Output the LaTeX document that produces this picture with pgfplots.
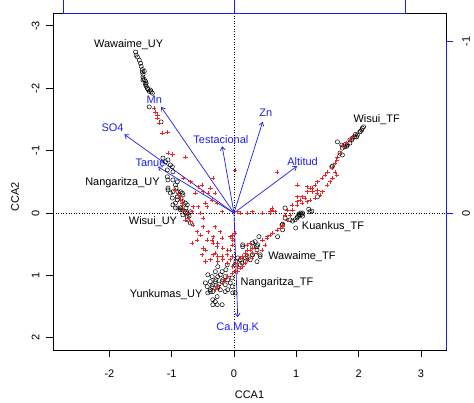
\documentclass[border=0pt]{standalone}
\usepackage{fontspec}
\setmainfont{Liberation Sans}
\usepackage{pgfplots}
\pgfplotsset{compat=1.18}
\usepackage{pgfplotstable}
\usetikzlibrary{arrows.meta}

\definecolor{bpblue}{RGB}{30,30,235}
\definecolor{spred}{RGB}{235,35,35}
\newcommand{\lblfont}{\fontsize{11}{13}\selectfont}

% site scores (CCA1, CCA2)
\pgfplotstableread{
x y
-1.58 -2.58
-1.57 -2.53
-1.55 -2.50
-1.52 -2.45
-1.50 -2.40
-1.49 -2.35
-1.47 -2.30
-1.47 -2.26
-1.46 -2.22
-1.46 -2.18
-1.44 -2.14
-1.42 -2.11
-1.42 -2.06
-1.41 -2.03
-1.39 -2.00
-1.38 -1.98
-1.34 -1.97
-1.33 -1.94
-1.31 -1.92
-1.44 -2.27
-1.41 -2.08
-1.36 -1.95
-1.46 -2.13
-1.36 -1.70
-1.17 -1.46
-1.14 -0.88
-1.10 -0.82
-1.02 -0.77
-0.99 -0.74
-1.06 -0.85
-1.07 -0.69
-0.98 -0.66
-1.07 -0.58
-1.06 -0.53
-0.98 -0.53
-0.91 -0.50
-1.06 -0.40
-0.98 -0.34
-0.86 -0.34
-0.83 -0.32
-0.82 -0.29
-0.99 -0.24
-0.91 -0.21
-0.82 -0.18
-0.78 -0.16
-0.75 -0.13
-0.98 -0.13
-0.94 -0.08
-0.90 -0.08
-0.83 -0.05
-0.78 -0.02
-0.75 0.00
-0.70 -0.02
-0.82 0.03
-0.75 0.06
-0.74 0.11
-0.70 0.16
-0.86 -0.05
-0.94 -0.45
-0.90 -0.34
-1.02 -0.32
-0.91 -0.26
-0.94 -0.16
-0.86 -0.08
-0.78 0.00
-1.06 -0.37
-0.93 -0.40
-0.85 -0.24
-0.77 -0.08
-0.72 0.05
0.14 0.51
0.30 0.48
0.37 0.54
0.42 0.67
0.29 0.67
0.26 0.75
0.18 0.78
0.10 0.83
0.02 0.83
-0.11 0.83
-0.26 0.86
-0.30 0.94
-0.19 0.94
-0.42 0.99
-0.35 1.02
-0.26 1.02
-0.14 1.02
-0.10 1.07
-0.03 1.04
-0.38 1.10
-0.30 1.10
-0.19 1.10
-0.14 1.15
-0.34 1.15
-0.26 1.18
-0.10 1.23
-0.38 1.23
-0.34 1.26
-0.14 1.26
-0.27 1.34
0.02 1.28
-0.30 1.42
-0.27 1.47
-0.19 1.47
-0.34 1.47
-0.42 1.28
-0.43 1.18
-0.22 1.23
-0.03 1.18
-0.46 1.12
-0.38 1.26
-0.34 1.39
-0.02 1.28
-0.26 1.20
-0.18 1.07
-0.06 1.12
-0.22 0.99
-0.13 0.91
-0.29 1.07
-0.35 1.18
-0.24 1.14
0.06 0.72
0.03 0.78
0.40 0.38
0.34 0.46
0.38 0.51
0.30 0.54
0.37 0.59
0.14 0.54
0.30 0.67
0.42 0.70
0.18 0.72
0.10 0.75
0.13 0.80
0.37 0.78
0.70 0.38
0.21 0.70
0.82 -0.08
0.82 0.08
0.94 0.13
1.01 0.08
1.02 0.06
1.06 0.03
1.09 0.02
1.10 0.05
1.04 0.05
1.07 0.00
1.20 -0.06
1.22 -0.02
1.25 -0.03
0.77 0.19
0.78 0.18
0.99 0.24
1.34 -0.26
0.98 0.11
0.78 0.27
0.90 0.11
1.10 0.00
1.04 0.02
2.08 -1.38
2.06 -1.36
2.05 -1.33
2.02 -1.30
1.98 -1.25
1.94 -1.22
1.90 -1.20
1.89 -1.17
1.86 -1.12
1.82 -1.09
1.78 -1.06
1.74 -1.04
1.66 -1.14
1.73 -1.09
1.97 -1.22
1.70 -0.96
1.74 -0.93
1.57 -0.74
1.58 -0.75
2.03 -1.31
1.95 -1.26
1.81 -1.07
1.86 -1.17
1.79 -1.10
}\sitescores

% species scores (CCA1, CCA2)
\pgfplotstableread{
x y
-1.28 -1.68
-1.26 -1.62
-1.23 -1.57
-1.23 -1.52
-1.20 -1.44
-1.15 -1.28
-1.07 -1.30
-1.06 -0.96
-0.99 -0.94
-0.78 -0.90
-0.34 -0.56
0.02 -0.69
-0.62 -0.32
-0.30 -0.32
0.69 -0.66
-0.82 -0.56
-0.70 -0.50
-0.58 -0.42
-0.51 -0.45
-0.38 -0.40
-0.50 -0.34
-0.42 -0.32
-0.35 -0.21
-0.46 -0.16
-0.27 -0.16
-0.58 -0.10
-0.43 -0.10
-0.19 -0.02
-0.66 -0.10
-0.67 -0.02
-0.54 0.00
-0.50 0.08
-0.66 0.19
-0.50 0.22
-0.42 0.30
-0.30 0.22
-0.22 0.30
-0.54 0.35
-0.35 0.43
-0.26 0.48
-0.18 0.56
-0.06 0.38
-0.03 0.51
-0.59 0.30
-0.43 0.43
-0.59 0.43
-0.19 0.40
-0.90 -0.29
-0.86 -0.21
-0.83 -0.13
-0.82 -0.05
-0.75 0.00
-0.74 0.08
-0.70 0.14
-0.78 0.11
-0.94 -0.37
-0.86 -0.26
-0.83 -0.16
-0.34 0.38
-0.34 0.48
-0.27 0.54
-0.06 0.59
-0.02 0.43
0.02 0.32
-0.46 0.59
-0.34 0.67
-0.11 0.67
-0.06 0.75
0.10 0.72
0.18 0.64
0.26 0.59
0.30 0.56
0.10 0.00
0.22 0.00
0.46 0.00
0.61 -0.05
0.66 -0.02
0.06 -0.02
0.30 -0.02
0.58 0.00
0.58 -0.03
0.61 -0.08
-0.67 0.48
-0.50 0.56
-0.51 0.67
-0.46 0.78
-0.30 0.64
-0.19 0.70
-0.26 0.78
-0.10 0.59
-0.03 0.70
0.05 0.80
0.06 0.86
0.02 0.94
-0.03 0.96
-0.10 1.02
-0.14 1.07
-0.19 1.12
-0.26 1.18
-0.30 1.23
-0.38 0.75
-0.18 0.75
-0.10 0.80
-0.02 0.86
-0.26 0.70
0.45 0.43
0.50 0.51
0.45 0.59
0.37 0.64
0.29 0.72
0.22 0.75
0.18 0.80
0.14 0.86
0.10 0.88
0.06 0.94
0.53 0.38
0.61 0.32
0.69 0.27
0.74 0.24
0.77 0.19
0.85 0.11
0.90 0.03
0.94 -0.05
1.01 -0.13
1.06 -0.21
1.10 -0.26
1.18 -0.34
1.25 -0.40
1.30 -0.45
1.34 -0.50
1.41 -0.56
1.46 -0.61
1.50 -0.66
1.57 -0.72
1.62 -0.80
1.65 -0.85
1.66 -0.90
1.70 -0.96
1.74 -1.09
1.81 -1.12
0.78 0.22
0.62 0.32
0.58 0.35
0.53 0.40
0.46 0.43
0.26 0.48
0.21 0.51
0.22 0.59
0.29 0.64
0.21 0.67
0.14 0.70
0.82 0.03
0.86 -0.05
0.93 -0.13
1.01 -0.18
1.09 -0.16
1.14 -0.24
1.22 -0.21
1.02 -0.26
1.22 -0.40
1.26 -0.34
1.34 -0.37
1.33 -0.32
1.17 -0.42
1.02 -0.45
1.17 -0.18
1.38 -0.29
1.30 -0.24
1.42 -0.34
1.49 -0.45
1.54 -0.50
1.58 -0.56
1.62 -0.66
1.65 -0.61
1.86 -1.17
1.90 -1.22
-0.02 0.35
-0.03 0.40
}\speciesscores

\begin{document}
\begin{tikzpicture}
\begin{axis}[
  scale only axis,
  width=393bp, height=337bp,
  xmin=-2.905, xmax=3.403,
  ymin=-3.205, ymax=2.196,
  y dir=reverse,
  clip=false,
  axis line style={line width=0.6bp},
  xtick={-2,-1,0,1,2,3},
  xticklabels={-2,-1,0,1,2,3},
  ytick={-3,-2,-1,0,1,2},
  yticklabels={-3,-2,-1,0,1,2},
  tick pos=left,
  tick align=outside,
  major tick length=7bp,
  tick style={black, line width=0.6bp},
  every tick label/.append style={font=\lblfont},
  xticklabel style={yshift=-9bp},
  yticklabel style={rotate=90, anchor=south, yshift=3bp},
]

% zero reference lines
\draw[dotted, line width=0.6bp] (axis cs:0,-3.205) -- (axis cs:0,2.196);
\draw[dotted, line width=0.6bp] (axis cs:-2.905,0) -- (axis cs:3.403,0);

% sites and species
\addplot[only marks, mark=o, mark size=2.1bp, mark options={black, line width=0.5bp}] table {\sitescores};
\addplot[only marks, mark=+, mark size=2.2bp, mark options={spred, line width=0.6bp}] table {\speciesscores};

% environmental biplot arrows
\addplot[bpblue, line width=0.7bp, -{Straight Barb[length=3.5bp,width=5bp]}] coordinates {(0,0) (-1.17,-1.70)};
\addplot[bpblue, line width=0.7bp, -{Straight Barb[length=3.5bp,width=5bp]}] coordinates {(0,0) (-1.76,-1.26)};
\addplot[bpblue, line width=0.7bp, -{Straight Barb[length=3.5bp,width=5bp]}] coordinates {(0,0) (-0.19,-1.07)};
\addplot[bpblue, line width=0.7bp, -{Straight Barb[length=3.5bp,width=5bp]}] coordinates {(0,0) (0.46,-1.46)};
\addplot[bpblue, line width=0.7bp, -{Straight Barb[length=3.5bp,width=5bp]}] coordinates {(0,0) (1.01,-0.75)};
\addplot[bpblue, line width=0.7bp, -{Straight Barb[length=3.5bp,width=5bp]}] coordinates {(0,0) (-1.22,-0.74)};
\addplot[bpblue, line width=0.7bp, -{Straight Barb[length=3.5bp,width=5bp]}] coordinates {(0,0) (0.06,1.67)};

% variable names
\begin{scope}[every node/.style={font=\lblfont, text=bpblue, inner sep=0pt}]
\node at (axis cs:-1.28,-1.82) {Mn};
\node at (axis cs:-1.95,-1.36) {SO4};
\node at (axis cs:-0.21,-1.18) {Testacional};
\node at (axis cs:0.51,-1.60) {Zn};
\node at (axis cs:1.10,-0.82) {Altitud};
\node at (axis cs:-1.34,-0.80) {Tanue};
\node at (axis cs:0.06,1.84) {Ca.Mg.K};
\end{scope}

% site group names
\begin{scope}[every node/.style={font=\lblfont, text=black, inner sep=0pt}]
\node at (axis cs:-1.69,-2.70) {Wawaime\_UY};
\node at (axis cs:2.29,-1.50) {Wisui\_TF};
\node at (axis cs:-1.79,-0.48) {Nangaritza\_UY};
\node at (axis cs:-1.30,0.14) {Wisui\_UY};
\node at (axis cs:1.59,0.22) {Kuankus\_TF};
\node at (axis cs:1.09,0.70) {Wawaime\_TF};
\node at (axis cs:0.69,1.12) {Nangaritza\_TF};
\node at (axis cs:-1.09,1.31) {Yunkumas\_UY};
\end{scope}

% biplot scale axes (top and right)
\draw[bpblue, line width=0.6bp] (axis cs:-2.745,-3.205) -- (axis cs:2.745,-3.205);
\draw[bpblue, line width=0.6bp] (axis cs:-2.745,-3.205) -- ([yshift=13bp]axis cs:-2.745,-3.205);
\draw[bpblue, line width=0.6bp] (axis cs:0,-3.205) -- ([yshift=13bp]axis cs:0,-3.205);
\draw[bpblue, line width=0.6bp] (axis cs:2.745,-3.205) -- ([yshift=13bp]axis cs:2.745,-3.205);
\draw[bpblue, line width=0.6bp] (axis cs:3.403,-2.745) -- (axis cs:3.403,2.196);
\draw[bpblue, line width=0.6bp] (axis cs:3.403,-2.745) -- ([xshift=7bp]axis cs:3.403,-2.745);
\draw[bpblue, line width=0.6bp] (axis cs:3.403,0) -- ([xshift=7bp]axis cs:3.403,0);
\node[rotate=90, font=\lblfont, inner sep=0pt] at ([xshift=20bp]axis cs:3.403,-2.745) {-1};
\node[rotate=90, font=\lblfont, inner sep=0pt] at ([xshift=20bp]axis cs:3.403,0) {0};

% axis titles
\node[font=\lblfont, inner sep=0pt] at ([yshift=-45bp]axis description cs:0.5,0) {CCA1};
\node[rotate=90, font=\lblfont, inner sep=0pt] at ([xshift=-38bp]axis description cs:0,0.454) {CCA2};
\end{axis}
\pgfresetboundingbox
\path ([shift={(-53bp,-52bp)}]current axis.south west) rectangle ([shift={(28bp,13bp)}]current axis.north east);
\end{tikzpicture}
\end{document}
